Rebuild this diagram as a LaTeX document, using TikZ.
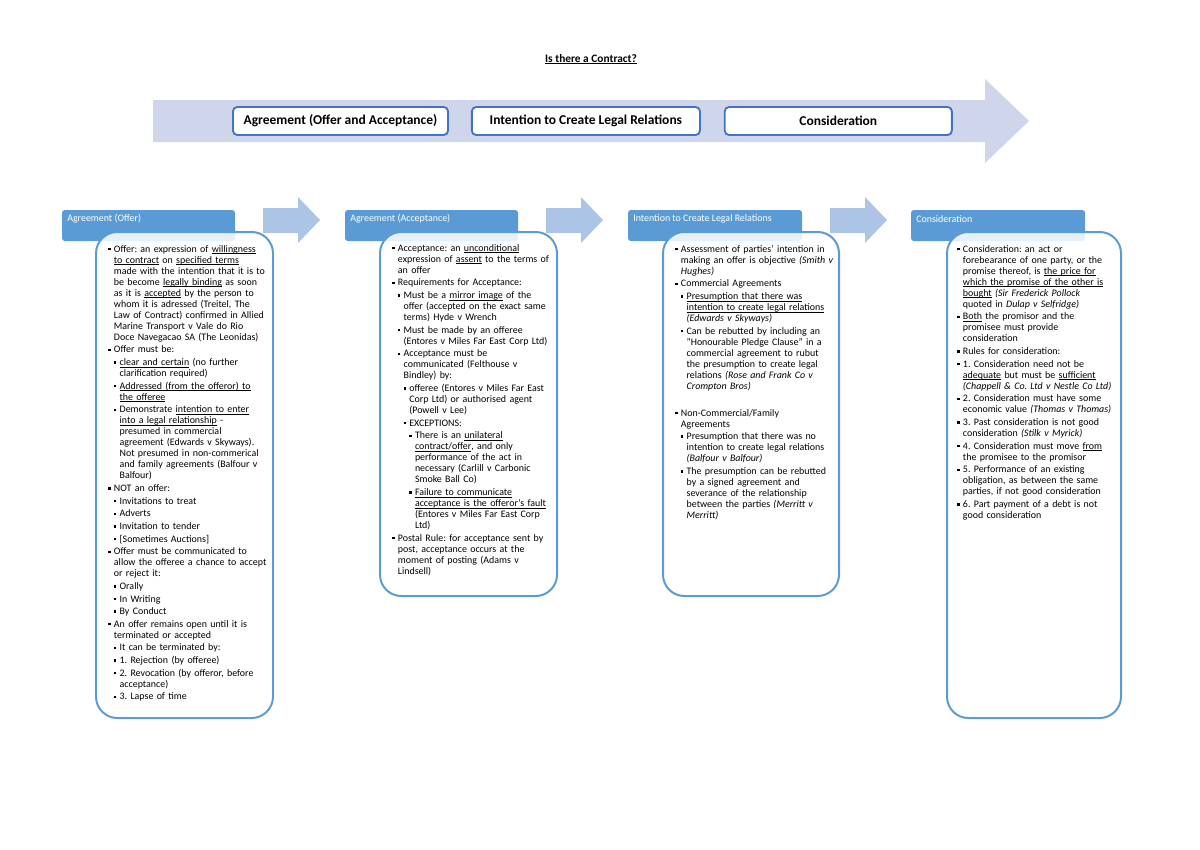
\documentclass[tikz,border=0pt]{standalone}
\usepackage{fontspec}
\setmainfont{Carlito}
\usepackage{xcolor}
\usetikzlibrary{
    positioning
}
\definecolor{headblue}{RGB}{91,155,213}
\definecolor{panelblue}{RGB}{91,155,213}
\definecolor{stageblue}{RGB}{68,114,196}
\definecolor{bandblue}{RGB}{207,213,234}
\definecolor{flowblue}{RGB}{172,196,230}
\newcommand{\bodysize}{\fontsize{7}{7.75}\selectfont\frenchspacing}
\newcommand{\bul}{\raisebox{1.3pt}{\rule{1.7pt}{1.7pt}}}
\newcommand{\uln}[1]{\leavevmode\setbox0\hbox{#1}\rlap{\rule[-1.2pt]{\wd0}{0.45pt}}\box0\relax}
\newcommand{\entry}[2]{\par\leftskip=\dimexpr#1+4pt\relax\noindent\llap{\bul\hspace{2.3pt}}#2\par\vspace{1.15pt}}
\tikzset{
    bigarrow/.style={
        fill=bandblue
    },
    flowarrow/.style={
        fill=flowblue
    },
    stagebox/.style={
        rectangle,
        rounded corners=3pt,
        draw=stageblue,
        line width=1.3pt,
        fill=white,
        inner sep=0pt,
        minimum height=19.7pt,
        font=\fontsize{9.5}{11}\selectfont\bfseries
    },
    headfill/.style={
        fill=headblue,
        rounded corners=2pt
    },
    headlabel/.style={
        anchor=west,
        inner sep=0pt,
        text=white,
        font=\bodysize
    },
    panel/.style={
        draw=panelblue,
        line width=1.4pt,
        fill=white,
        fill opacity=0.85,
        rounded corners=15pt
    },
    bodytext/.style={
        anchor=north west,
        inner sep=0pt,
        text width=114pt,
        align=left,
        font=\bodysize
    }
}

\begin{document}
\begin{tikzpicture}[x=0.7042pt, y=-0.7042pt]

\useasboundingbox (0,0) rectangle (1200,849);

\node[font=\fontsize{8}{10}\selectfont\bfseries] (title) at (591,59) {\uln{Is there a Contract?}};

\fill[bigarrow] (153,100) -- (985,100) -- (985,79) -- (1029,121) -- (985,163) -- (985,142) -- (153,142) -- cycle;

\node[stagebox, minimum width=151.4pt] (agree) at (340.5,121) {Agreement (Offer and Acceptance)};
\node[stagebox, minimum width=160.6pt, right=15.5pt of agree] (intent) {Intention to Create Legal Relations};
\node[stagebox, minimum width=159.9pt, right=16.2pt of intent] (consid) {Consideration};

\foreach \x in {263,546,830}
    \fill[flowarrow] (\x,208) -- (\x+35,208) -- (\x+35,197) -- (\x+57,220) -- (\x+35,243) -- (\x+35,233) -- (\x,233) -- cycle;

\fill[headfill] (62,210) rectangle (235,241);
\fill[headfill] (345,210) rectangle (518,241);
\fill[headfill] (628,210) rectangle (802,241);
\fill[headfill] (911,210) rectangle (1085,241);

\node[headlabel] (offerhead) at (67,219) {Agreement (Offer)};
\node[headlabel] (accepthead) at (350,219) {Agreement (Acceptance)};
\node[headlabel] (intenthead) at (633,219) {Intention to Create Legal Relations};
\node[headlabel] (considhead) at (916,219) {Consideration};

\draw[panel] (96,232) rectangle (273,718);
\draw[panel] (380,232) rectangle (557,596);
\draw[panel] (663,232) rectangle (839,596);
\draw[panel] (947,232) rectangle (1121,718);

\node[bodytext] (offertext) at (108,241) {%
\entry{0pt}{Offer: an expression of \uln{willingness}\\ \uln{to contract} on \uln{specified terms}\\ made with the intention that it is to\\ be become \uln{legally binding} as soon\\ as it is \uln{accepted} by the person to\\ whom it is adressed (Treitel, The\\ Law of Contract) confirmed in Allied\\ Marine Transport v Vale do Rio\\ Doce Navegacao SA (The Leonidas)}
\entry{0pt}{Offer must be:}
\entry{4pt}{\uln{clear and certain} (no further\\ clarification required)}
\entry{4pt}{\uln{Addressed (from the offeror) to}\\ \uln{the offeree}}
\entry{4pt}{Demonstrate \uln{intention to enter}\\ \uln{into a legal relationship} -\\ presumed in commercial\\ agreement (Edwards v Skyways).\\ Not presumed in non-commerical\\ and family agreements (Balfour v\\ Balfour)}
\entry{0pt}{NOT an offer:}
\entry{4pt}{Invitations to treat}
\entry{4pt}{Adverts}
\entry{4pt}{Invitation to tender}
\entry{4pt}{[Sometimes Auctions]}
\entry{0pt}{Offer must be communicated to\\ allow the offeree a chance to accept\\ or reject it:}
\entry{4pt}{Orally}
\entry{4pt}{In Writing}
\entry{4pt}{By Conduct}
\entry{0pt}{An offer remains open until it is\\ terminated or accepted}
\entry{4pt}{It can be terminated by:}
\entry{4pt}{1. Rejection (by offeree)}
\entry{4pt}{2. Revocation (by offeror, before\\ acceptance)}
\entry{4pt}{3. Lapse of time}};

\node[bodytext] (accepttext) at (392,240) {%
\entry{0pt}{Acceptance: an \uln{unconditional}\\ expression of \uln{assent} to the terms of\\ an offer}
\entry{0pt}{Requirements for Acceptance:}
\entry{4pt}{Must be a \uln{mirror image} of the\\ offer (accepted on the exact same\\ terms) Hyde v Wrench}
\entry{4pt}{Must be made by an offeree\\ (Entores v Miles Far East Corp Ltd)}
\entry{4pt}{Acceptance must be\\ communicated (Felthouse v\\ Bindley) by:}
\entry{8pt}{offeree (Entores v Miles Far East\\ Corp Ltd) or authorised agent\\ (Powell v Lee)}
\entry{8pt}{EXCEPTIONS:}
\entry{12pt}{There is an \uln{unilateral}\\ \uln{contract/offer}, and only\\ performance of the act in\\ necessary (Carlill v Carbonic\\ Smoke Ball Co)}
\entry{12pt}{\uln{Failure to communicate}\\ \uln{acceptance is the offeror's fault}\\ (Entores v Miles Far East Corp\\ Ltd)}
\entry{0pt}{Postal Rule: for acceptance sent by\\ post, acceptance occurs at the\\ moment of posting (Adams v\\ Lindsell)}};

\node[bodytext] (intenttext) at (675,241) {%
\entry{0pt}{Assessment of parties' intention in\\ making an offer is objective \textit{(Smith v}\\ \textit{Hughes)}}
\entry{0pt}{Commercial Agreements}
\entry{4pt}{\uln{Presumption that there was}\\ \uln{intention to create legal relations}\\ \textit{(Edwards v Skyways)}}
\entry{4pt}{Can be rebutted by including an\\ "Honourable Pledge Clause" in a\\ commercial agreement to rubut\\ the presumption to create legal\\ relations \textit{(Rose and Frank Co v}\\ \textit{Crompton Bros)}}
\vspace{10pt}
\entry{0pt}{Non-Commercial/Family\\ Agreements}
\entry{4pt}{Presumption that there was no\\ intention to create legal relations\\ \textit{(Balfour v Balfour)}}
\entry{4pt}{The presumption can be rebutted\\ by a signed agreement and\\ severance of the relationship\\ between the parties \textit{(Merritt v}\\ \textit{Merritt)}}};

\node[bodytext] (considtext) at (957,241) {%
\entry{0pt}{Consideration: an act or\\ forebearance of one party, or the\\ promise thereof, is \uln{the price for}\\ \uln{which the promise of the other is}\\ \uln{bought} \textit{(Sir Frederick Pollock}\\ quoted in \textit{Dulap v Selfridge)}}
\entry{0pt}{\uln{Both} the promisor and the\\ promisee must provide\\ consideration}
\entry{0pt}{Rules for consideration:}
\entry{0pt}{1. Consideration need not be\\ \uln{adequate} but must be \uln{sufficient}\\ \textit{(Chappell \& Co. Ltd v Nestle Co Ltd)}}
\entry{0pt}{2. Consideration must have some\\ economic value \textit{(Thomas v Thomas)}}
\entry{0pt}{3. Past consideration is not good\\ consideration \textit{(Stilk v Myrick)}}
\entry{0pt}{4. Consideration must move \uln{from}\\ the promisee to the promisor}
\entry{0pt}{5. Performance of an existing\\ obligation, as between the same\\ parties, if not good consideration}
\entry{0pt}{6. Part payment of a debt is not\\ good consideration}};

\end{tikzpicture}
\end{document}
